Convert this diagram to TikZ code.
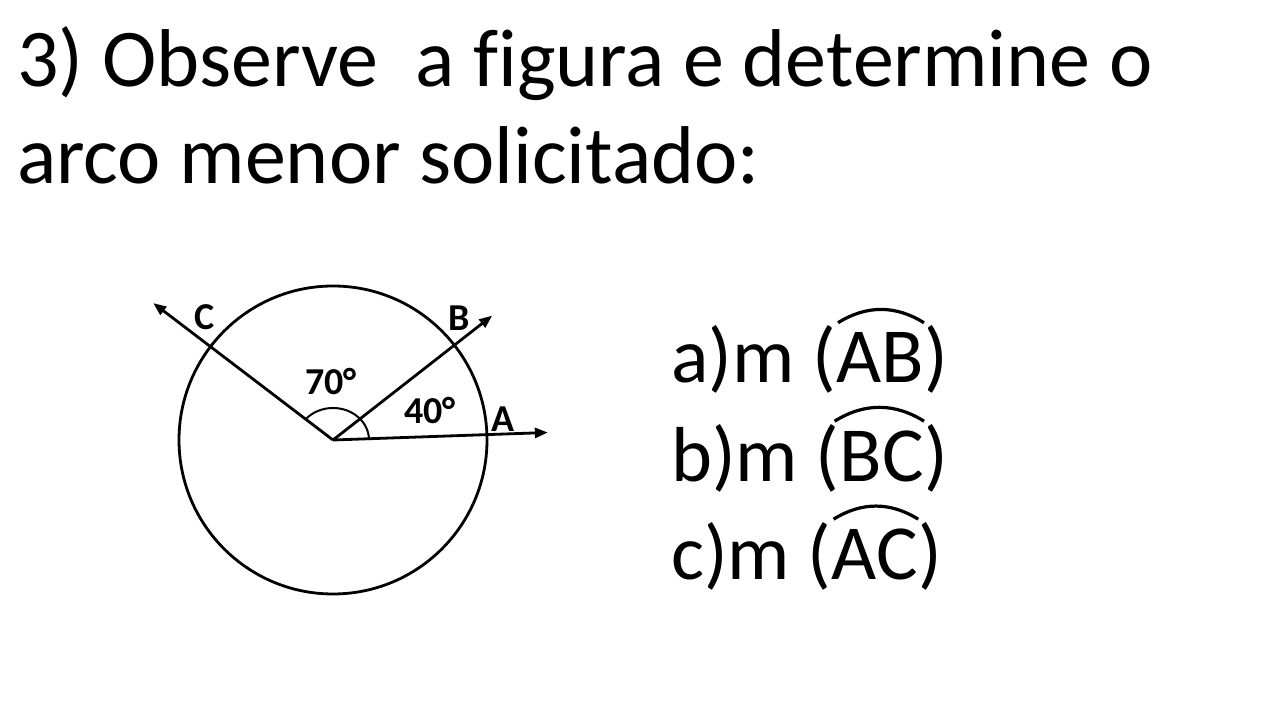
\documentclass[tikz,border=0pt]{standalone}
\usepackage{fontspec}
\setmainfont{Carlito}[Ligatures=NoCommon]
\usetikzlibrary{arrows.meta}

\begin{document}
\begin{tikzpicture}[x=1pt, y=1pt,
    ray/.style={line width=2.8pt, -{Triangle[length=13pt,width=10pt]}},
    rim/.style={line width=2.8pt},
    tag/.style={inner sep=0pt, font=\fontsize{38}{38}\selectfont\bfseries},
    line/.style={inner sep=0pt, anchor=base west, font=\fontsize{82}{97}\selectfont},
    item/.style={inner sep=0pt, anchor=base west, font=\fontsize{78}{78}\selectfont},
    arcmark/.style={line width=3.2pt}]
    \useasboundingbox (0,0) rectangle (1280,720);
    % question
    \node(question) [line] at (17,633) {3) Observe\ \ a figura e determine o};
    \node(question2) [line] at (17,536) {arco menor solicitado:};
    % circle and rays
    \coordinate (O) at (333,280);
    \path (O) ++(2:215) coordinate (tipA);
    \path (O) ++(38:202) coordinate (tipB);
    \path (O) ++(142.7:226) coordinate (tipC);
    \draw[rim] (O) circle (154);
    \draw[ray] (O) -- (tipA);
    \draw[ray] (O) -- (tipB);
    \draw[ray] (O) -- (tipC);
    \draw[line width=2pt] (O) ++(0:36) arc[start angle=0, end angle=139, x radius=36, y radius=32];
    \node(labC) [tag] at (205,403) {C};
    \node(labB) [tag] at (459,402) {B};
    \node(labA) [tag] at (503,301) {A};
    \node(ang70) [tag] at (331,338) {70°};
    \node(ang40) [tag] at (430,309) {40°};
    % items
    \node(ia) [item] at (671,337) {a)m (};
    \node(arcAB) [item] at (ia.base east) {AB};
    \node(ea) [item] at (arcAB.base east) {)};
    \node(ib) [item] at (671,238) {b)m (};
    \node(arcBC) [item] at (ib.base east) {BC};
    \node(eb) [item] at (arcBC.base east) {)};
    \node(ic) [item] at (671,140) {c)m (};
    \node(arcAC) [item] at (ic.base east) {AC};
    \node(ec) [item] at (arcAC.base east) {)};
    \draw[arcmark] ([shift={(2,10)}]arcAB.north west) to[bend left=32] ([shift={(0,10)}]arcAB.north east);
    \draw[arcmark] ([shift={(-5,10)}]arcBC.north west) to[bend left=32] ([shift={(0,10)}]arcBC.north east);
    \draw[arcmark] ([shift={(2,10)}]arcAC.north west) to[bend left=32] ([shift={(0,10)}]arcAC.north east);
\end{tikzpicture}
\end{document}
